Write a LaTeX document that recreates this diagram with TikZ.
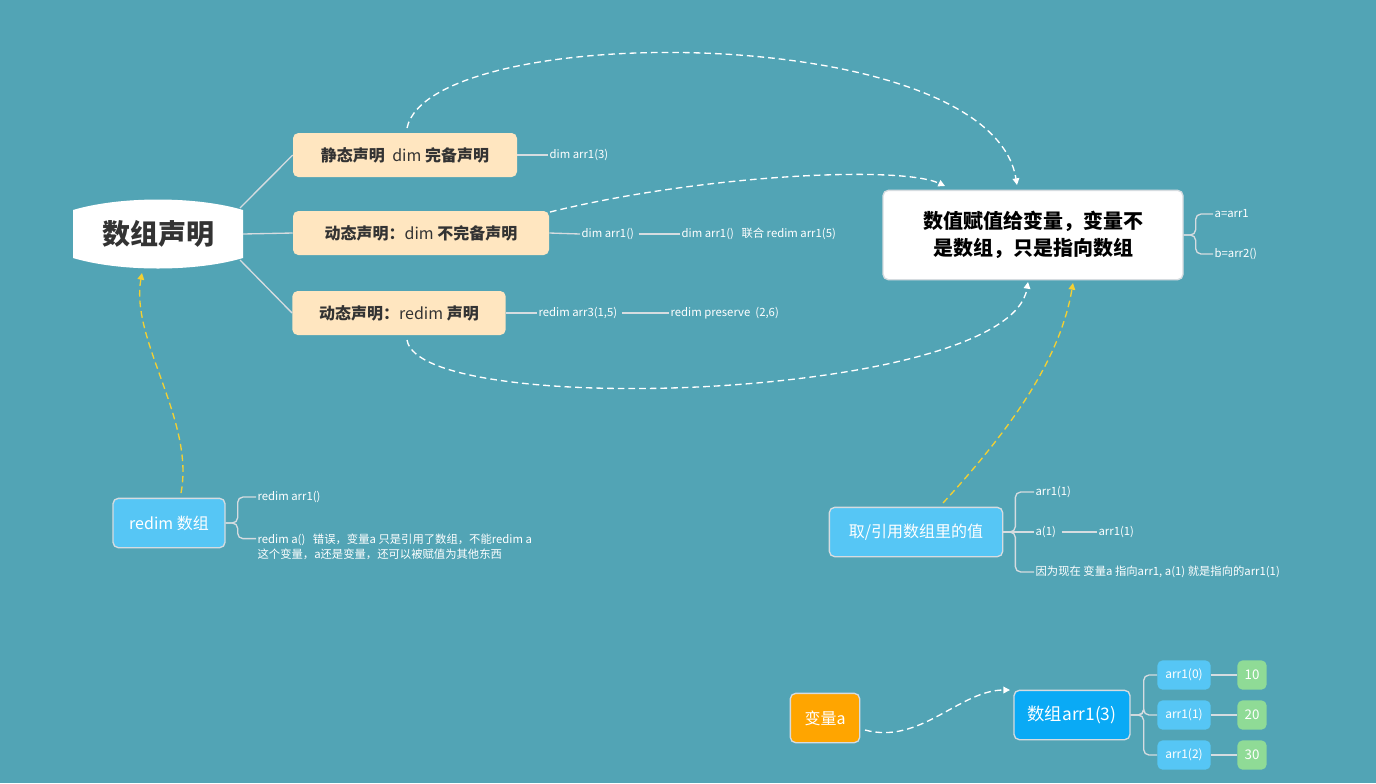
\documentclass[tikz,border=0pt]{standalone}
\usepackage{fontspec}
\setmainfont{Noto Sans CJK SC}
\usetikzlibrary{positioning,arrows.meta,calc}
\definecolor{bg}{HTML}{52A4B5}
\definecolor{peach}{HTML}{FFE6C0}
\definecolor{sky}{HTML}{56C6F5}
\definecolor{deepsky}{HTML}{0AAAF5}
\definecolor{grn}{HTML}{8FDB96}
\definecolor{orng}{HTML}{FFA500}
\definecolor{ink}{HTML}{333333}
\definecolor{lgray}{HTML}{D6DCE0}
\definecolor{gold}{HTML}{F2D033}
\tikzset{%
	declbox/.style = {fill=peach, rounded corners=4pt, text=ink, font=\fontsize{12}{14}\selectfont\bfseries, minimum height=33pt, inner xsep=0pt, anchor=center},
	bluebox/.style = {fill=sky, draw=lgray, line width=1pt, rounded corners=4pt, text=white, font=\fontsize{12}{14}\selectfont, minimum height=37pt, inner xsep=0pt},
	cellbox/.style = {fill=sky, rounded corners=4pt, text=white, font=\fontsize{9}{11}\selectfont, minimum width=40pt, minimum height=22pt, inner sep=0pt},
	valbox/.style  = {fill=grn, rounded corners=4pt, text=white, font=\fontsize{10}{12}\selectfont, minimum width=22pt, minimum height=22pt, inner sep=0pt},
	leaf/.style    = {text=white, font=\fontsize{8.5}{11}\selectfont, anchor=west, inner sep=1pt, align=left},
	conn/.style    = {draw=lgray, line width=1pt},
	link/.style    = {white, line width=1pt, dashed, dash pattern=on 5pt off 3pt, -{Triangle[length=5pt,width=5pt]}},
	ylink/.style   = {link, gold},
}
\begin{document}
\begin{tikzpicture}[x=0.75pt,y=-0.75pt]
	\fill[bg] (0,0) rectangle (1376,783);
	\useasboundingbox (0,0) rectangle (1376,783);

	% root
	\fill[white] (73,210) .. controls (120,196) and (196,196) .. (243,210) -- (243,258) .. controls (196,272) and (120,272) .. (73,258) -- cycle;
	\node[text=ink, font=\fontsize{21}{24}\selectfont\bfseries] (root) at (158,234) {数组声明};

	% declarations
	\node[declbox, minimum width=168pt] (stat) at (405,155) {静态声明\ \ {\mdseries dim} 完备声明};
	\node[declbox, minimum width=192pt] (dyn) at (421,233) {动态声明：{\mdseries dim} 不完备声明};
	\node[declbox, minimum width=160pt] (red) at (399,313) {动态声明：{\mdseries redim} 声明};
	\draw[conn] (240,208) -- (stat.west);
	\draw[conn] (243,234) -- (dyn.west);
	\draw[conn] (240,260) -- (red.west);

	\node[leaf] (s1) at (548,155) {dim arr1(3)};
	\draw[conn] (stat.east) -- (s1.west);
	\node[leaf] (d1) at (580,234) {dim arr1()};
	\node[leaf] (d2) at (680,234) {dim arr1()\ \ \ 联合 redim arr1(5)};
	\draw[conn] (dyn.east) -- (d1.west);
	\draw[conn] (d1.east) ++(3,0) -- (d2.west);
	\node[leaf] (r1) at (537,313) {redim arr3(1,5)};
	\node[leaf] (r2) at (669,313) {redim preserve\ \ (2,6)};
	\draw[conn] (red.east) -- (r1.west);
	\draw[conn] (r1.east) ++(3,0) -- (r2.west);

	% target
	\node[fill=white, draw=lgray, line width=1pt, rounded corners=4pt, minimum width=225pt, minimum height=67pt, align=center, font=\fontsize{15}{20}\selectfont\bfseries] (tgt) at (1033,235) {数值赋值给变量，变量不\\是数组，只是指向数组};
	\node[leaf] (t1) at (1213,214) {a=arr1};
	\node[leaf] (t2) at (1213,254) {b=arr2()};
	\draw[conn, rounded corners=4pt] (tgt.east) -- ++(12,0) |- (t1.west);
	\draw[conn, rounded corners=4pt] (tgt.east) -- ++(12,0) |- (t2.west);

	\draw[link] (407,128) .. controls (430,20) and (990,20) .. (1017,185);
	\draw[link] (550,212) .. controls (700,175) and (900,165) .. (945,186);
	\draw[link] (407,340) .. controls (420,420) and (1010,400) .. (1028,282);

	% redim array
	\node[bluebox, minimum width=84pt] (rdm) at (169,523) {redim 数组};
	\node[leaf] (m1) at (256,497) {redim arr1()};
	\node[leaf] (m2) at (256,547) {redim a()\ \ \ 错误，变量a 只是引用了数组，不能redim a\\这个变量，a还是变量，还可以被赋值为其他东西};
	\draw[conn, rounded corners=4pt] (rdm.east) -- ++(12,0) |- (m1.west);
	\draw[conn, rounded corners=4pt] (rdm.east) -- ++(12,0) |- ($(m2.north west)+(0,6)$);
	\draw[ylink] (181,493) .. controls (195,420) and (130,340) .. (142,273);

	% fetch value
	\node[bluebox, minimum width=130pt] (get) at (916,532) {取/引用数组里的值};
	\node[leaf] (g1) at (1034,492) {arr1(1)};
	\node[leaf] (g2) at (1034,532) {a(1)};
	\node[leaf] (g3) at (1097,532) {arr1(1)};
	\node[leaf] (g4) at (1034,572) {因为现在 变量a 指向arr1, a(1) 就是指向的arr1(1)};
	\draw[conn, rounded corners=4pt] (get.east) -- ++(12,0) |- (g1.west);
	\draw[conn] (get.east) -- (g2.west);
	\draw[conn, rounded corners=4pt] (get.east) -- ++(12,0) |- (g4.west);
	\draw[conn] (g2.east) ++(4,0) -- (g3.west);
	\draw[ylink] (943,503) .. controls (1010,430) and (1060,360) .. (1073,283);

	% variable and array
	\node[bluebox, fill=orng, minimum width=52pt] (var) at (825,718) {变量a};
	\node[bluebox, fill=deepsky, minimum width=87pt, font=\fontsize{13}{15}\selectfont] (arr) at (1072,715) {数组arr1(3)};
	\draw[link] (865,730) .. controls (920,745) and (960,690) .. (1010,690);
	\foreach \i/\y/\v in {0/675/10,1/715/20,2/755/30} {
		\node[cellbox] (c\i) at (1184,\y) {arr1(\i)};
		\node[valbox] (v\i) at (1252,\y) {\v};
		\draw[conn] (c\i.east) -- (v\i.west);
		\draw[conn, rounded corners=4pt] (arr.east) -- ++(13,0) |- (c\i.west);
	}
\end{tikzpicture}
\end{document}
